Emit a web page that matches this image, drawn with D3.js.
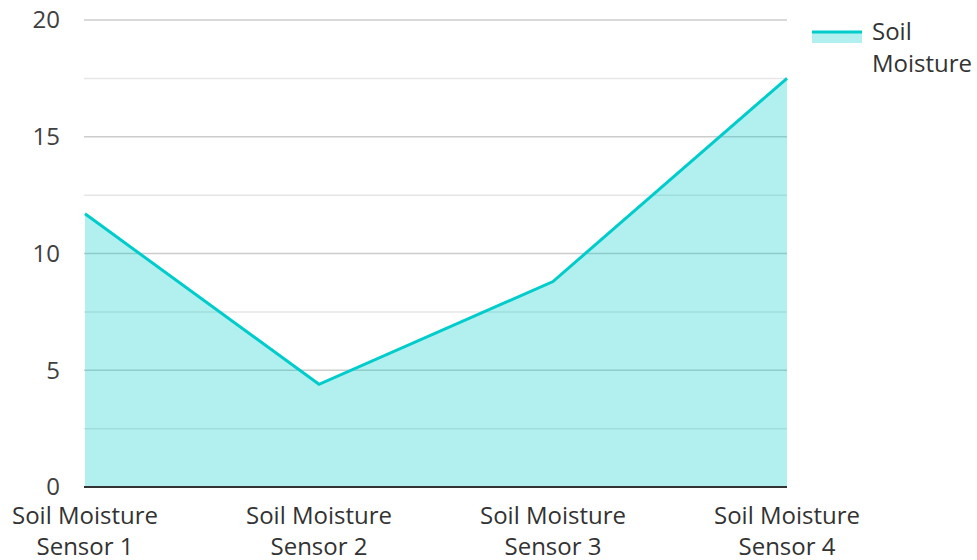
<!DOCTYPE html>
<html>
<head>
<meta charset="utf-8">
<script src="https://cdn.jsdelivr.net/npm/d3@7"></script>
<style>
  html, body { margin: 0; padding: 0; background: #fff; }
  svg { display: block; font-family: "Open Sans", sans-serif; }
</style>
</head>
<body>
<svg id="chart" width="977" height="560"></svg>
<script>
// Soil moisture readings per sensor
const categories = ["Soil Moisture Sensor 1", "Soil Moisture Sensor 2", "Soil Moisture Sensor 3", "Soil Moisture Sensor 4"];
const moisture = [11.7, 4.4, 8.8, 17.5];
const seriesName = "Soil Moisture";
const majorTicks = [0, 5, 10, 15, 20];
const minorTicks = [2.5, 7.5, 12.5, 17.5];

const svg = d3.select("#chart");
const margin = { left: 85, right: 190, top: 20, bottom: 73 };
const W = 977, H = 560;
const lineColor = "#00cccc";
const fontSize = 24;

const x = d3.scalePoint().domain(categories).range([margin.left, W - margin.right]);
const y = d3.scaleLinear().domain([0, 20]).range([H - margin.bottom, margin.top]);

// Grid lines
const grid = svg.append("g");
grid.selectAll("line.minor").data(minorTicks).join("line")
  .attr("class", "minor")
  .attr("x1", margin.left - 1).attr("x2", W - margin.right)
  .attr("y1", d => y(d)).attr("y2", d => y(d))
  .attr("stroke", "#e6e6e6").attr("stroke-width", 1.5);
grid.selectAll("line.major").data(majorTicks.filter(d => d > 0)).join("line")
  .attr("class", "major")
  .attr("x1", margin.left - 1).attr("x2", W - margin.right)
  .attr("y1", d => y(d)).attr("y2", d => y(d))
  .attr("stroke", "#cccccc").attr("stroke-width", 1.5);

// Y tick labels
svg.append("g").selectAll("text").data(majorTicks).join("text")
  .attr("x", 60).attr("y", d => y(d))
  .attr("dy", "0.35em")
  .attr("text-anchor", "end")
  .attr("font-size", fontSize)
  .attr("fill", "#404040")
  .text(d => d);

// Area + line
const pts = categories.map((c, i) => ({ c, v: moisture[i] }));
svg.append("path").datum(pts)
  .attr("d", d3.area().x(d => x(d.c)).y0(y(0)).y1(d => y(d.v)))
  .attr("fill", lineColor).attr("fill-opacity", 0.3);
svg.append("path").datum(pts)
  .attr("d", d3.line().x(d => x(d.c)).y(d => y(d.v)))
  .attr("fill", "none").attr("stroke", lineColor).attr("stroke-width", 3)
  .attr("stroke-linejoin", "miter");

// X axis baseline
svg.append("line")
  .attr("x1", margin.left - 1).attr("x2", W - margin.right)
  .attr("y1", y(0)).attr("y2", y(0))
  .attr("stroke", "#333").attr("stroke-width", 2);

// X labels, two lines each
const xl = svg.append("g").selectAll("text").data(categories).join("text")
  .attr("text-anchor", "middle")
  .attr("font-size", fontSize)
  .attr("fill", "#333");
xl.each(function(d) {
  const words = d.split(" ");
  const l1 = words.slice(0, 2).join(" ");
  const l2 = words.slice(2).join(" ");
  const t = d3.select(this);
  t.append("tspan").attr("x", x(d)).attr("y", 524).text(l1);
  t.append("tspan").attr("x", x(d)).attr("y", 555).text(l2);
});

// Legend
const lg = svg.append("g");
lg.append("rect").attr("x", 812).attr("y", 32).attr("width", 50).attr("height", 11)
  .attr("fill", lineColor).attr("fill-opacity", 0.3);
lg.append("line").attr("x1", 812).attr("x2", 862).attr("y1", 32).attr("y2", 32)
  .attr("stroke", lineColor).attr("stroke-width", 3);
const lt = lg.append("text").attr("font-size", fontSize).attr("fill", "#333");
lt.append("tspan").attr("x", 872).attr("y", 40).text(seriesName.split(" ")[0]);
lt.append("tspan").attr("x", 872).attr("y", 72).text(seriesName.split(" ")[1]);
</script>
</body>
</html>
